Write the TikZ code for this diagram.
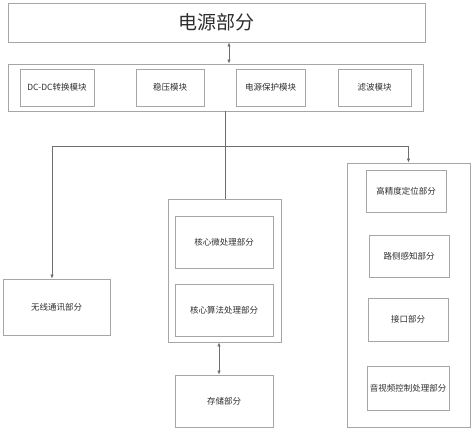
\documentclass[tikz,border=0pt]{standalone}
\usepackage{fontspec}
\newfontfamily\cjk{Noto Sans CJK SC}
\usepackage{tikz}
\usetikzlibrary{positioning,arrows.meta,calc}
\definecolor{boxgray}{HTML}{A6A6A6}
\definecolor{wiregray}{HTML}{6E6E6E}
\definecolor{inkgray}{HTML}{2E2E2E}
\tikzset{
  part/.style={draw=boxgray,line width=0.8pt,inner sep=0pt,
    font=\cjk\fontsize{8.5}{10}\selectfont,text=inkgray},
  title/.style={part,font=\cjk\fontsize{19}{22}\selectfont},
  frame/.style={draw=boxgray,line width=0.8pt,inner sep=0pt},
  wire/.style={draw=wiregray,line width=0.7pt},
  tip/.style={-{Latex[length=4pt,width=3.4pt]}},
  twotip/.style={{Latex[length=4pt,width=3.4pt]}-{Latex[length=4pt,width=3.4pt]}}
}
\begin{document}
\begin{tikzpicture}[x=1pt,y=-1pt]
  \useasboundingbox (0,0) rectangle (474,431);
  % power supply
  \node[title,minimum width=417,minimum height=39] (power) at (216.5,22.5) {电源部分};
  \node[frame,minimum width=415,minimum height=47] (modules) at (215.5,87.5) {};
  \node[part,minimum width=74,minimum height=37] (dcdc) at (57,87.5) {DC-DC转换模块};
  \node[part,minimum width=68,minimum height=37] (regulate) at (170,87.5) {稳压模块};
  \node[part,minimum width=69,minimum height=37] (protect) at (270.5,87.5) {电源保护模块};
  \node[part,minimum width=73,minimum height=37] (filter) at (374.5,87.5) {滤波模块};
  % wireless
  \node[part,minimum width=107,minimum height=56] (wireless) at (56.5,307) {无线通讯部分};
  % core
  \node[frame,minimum width=113,minimum height=143] (core) at (224.5,270.5) {};
  \node[part,minimum width=98,minimum height=52] (micro) at (224,242) {核心微处理部分};
  \node[part,minimum width=98,minimum height=52] (algo) at (224,310) {核心算法处理部分};
  \node[part,minimum width=98,minimum height=52] (storage) at (224,401) {存储部分};
  % sensing side
  \node[frame,minimum width=123,minimum height=264] (sensing) at (408.5,295) {};
  \node[part,minimum width=80,minimum height=42] (gps) at (406,191) {高精度定位部分};
  \node[part,minimum width=80,minimum height=42] (roadside) at (409,256) {路侧感知部分};
  \node[part,minimum width=80,minimum height=43] (iface) at (408,319.5) {接口部分};
  \node[part,minimum width=82,minimum height=44] (avctrl) at (408,388) {音视频控制处理部分};
  % connectors
  \coordinate (jn) at (225,146);
  \draw[wire,twotip] ([xshift=12.5]power.south) -- ([xshift=12.5]power.south |- modules.north);
  \draw[wire] (modules.south -| jn) -- (core.north -| jn);
  \draw[wire,tip] (jn) -| ([xshift=-4.5]wireless.north);
  \draw[wire,tip] (jn) -| (sensing.north);
  \draw[wire,twotip] ([xshift=-5.5]core.south) -- ([xshift=-5.5]core.south |- storage.north);
\end{tikzpicture}
\end{document}
